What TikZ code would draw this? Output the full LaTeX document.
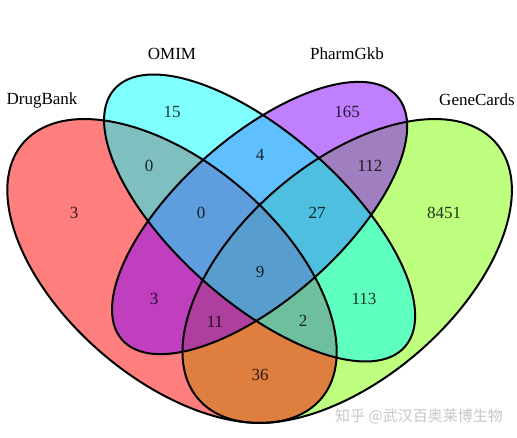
\documentclass[tikz,border=0pt]{standalone}
\usepackage{fontspec}
\setmainfont{Liberation Serif}
\newfontfamily\cjkfont{Noto Sans CJK SC}
\usepackage{xcolor}
\usepackage{tikz}
\definecolor{drugx}{HTML}{FF0000}
\definecolor{omimx}{HTML}{00FFFF}
\definecolor{pharmx}{HTML}{8000FF}
\definecolor{genex}{HTML}{80FF00}
\tikzset{
  setfill/.style={fill=#1,fill opacity=0.5},
  setline/.style={draw=black,line width=2pt},
  cnt/.style={font=\fontsize{17}{20}\selectfont,text=black,text opacity=0.8},
  setname/.style={font=\fontsize{17}{20}\selectfont}
}

\begin{document}
\begin{tikzpicture}[x=1pt,y=-1pt]
\useasboundingbox (0,0) rectangle (517,438);
\def\k{1.084}
% ellipses, x stretched round the middle axis
\begin{scope}[shift={(259.6,0)},xscale=\k]
\fill[setfill=genex,rotate around={45:(80.8,271)}] (80.8,271) ellipse (188 and 104);
\fill[setfill=drugx,rotate around={-45:(-80.8,271)}] (-80.8,271) ellipse (188 and 104);
\fill[setfill=pharmx,rotate around={45:(0,218)}] (0,218) ellipse (176 and 78);
\fill[setfill=omimx,rotate around={-45:(0,218)}] (0,218) ellipse (186 and 81);
\draw[setline,rotate around={45:(80.8,271)}] (80.8,271) ellipse (188 and 104);
\draw[setline,rotate around={-45:(-80.8,271)}] (-80.8,271) ellipse (188 and 104);
\draw[setline,rotate around={45:(0,218)}] (0,218) ellipse (176 and 78);
\draw[setline,rotate around={-45:(0,218)}] (0,218) ellipse (186 and 81);
\end{scope}
% set names
\node[setname] (drugbank) at (42,100) {DrugBank};
\node[setname] (omim) at (172,54) {OMIM};
\node[setname] (pharmgkb) at (347,54) {PharmGkb};
\node[setname] (genecards) at (477,100) {GeneCards};
% counts
\node[cnt] (b) at (172,112) {15};
\node[cnt] (c) at (347,112) {165};
\node[cnt] (bc) at (260,155) {4};
\node[cnt] (ab) at (149,166) {0};
\node[cnt] (cd) at (370,166) {112};
\node[cnt] (a) at (74,213) {3};
\node[cnt] (abc) at (201,213) {0};
\node[cnt] (bcd) at (317,213) {27};
\node[cnt] (d) at (444,213) {8451};
\node[cnt] (abcd) at (260,272) {9};
\node[cnt] (ac) at (154,299) {3};
\node[cnt] (bd) at (364,299) {113};
\node[cnt] (acd) at (215,322) {11};
\node[cnt] (abd) at (303,321) {2};
\node[cnt] (ad) at (260,375) {36};
\node[font=\cjkfont\fontsize{15}{17}\selectfont,text=gray!45] (mark) at (419,416) {知乎 @武汉百奥莱博生物};
\end{tikzpicture}
\end{document}
